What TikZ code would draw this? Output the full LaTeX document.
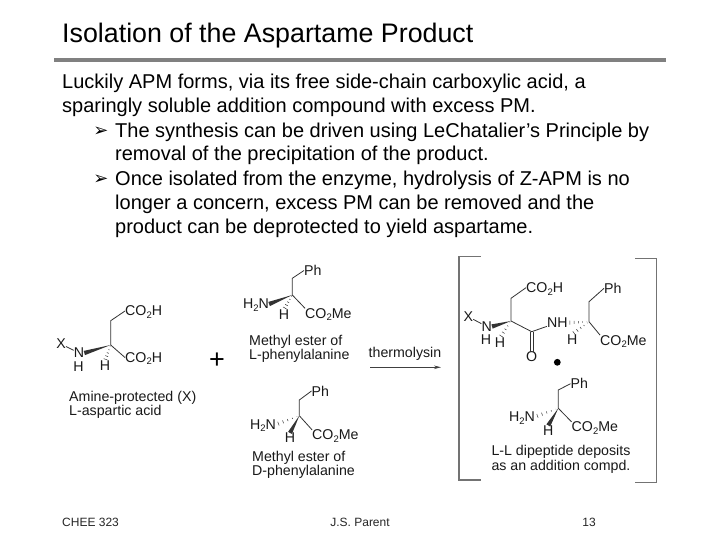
\documentclass[tikz,border=0pt]{standalone}
\usepackage{fontspec}
\setmainfont{Liberation Sans}
\newfontfamily\dingfont{DejaVu Sans}
\usetikzlibrary{arrows.meta, calc}

\newcommand{\two}{\smash{\raisebox{-2.6pt}{\fontsize{9.5}{10}\selectfont 2}}}
% solid wedge, narrow at #1 and wide at #2
\newcommand{\wedgebond}[2]{\fill[bondcol] (#1) -- ($(#2)!2.2pt!90:(#1)$) -- ($(#2)!2.2pt!-90:(#1)$) -- cycle;}
% hashed wedge, narrow at #1 and wide at #2
\newcommand{\hashbond}[2]{\foreach \t in {0.1,0.3,0.5,0.7,0.9}
    {\draw[bondcol, line width=0.5pt] ($(#1)!\t!(#2)!2.2pt*\t!90:(#2)$) -- ($(#1)!\t!(#2)!2.2pt*\t!-90:(#2)$);}}

\tikzset{
    bond/.style={draw=bondcol, line width=0.8pt},
    atom/.style={font=\fontsize{14.2}{16}\selectfont, inner sep=0pt, text=black!90, yshift=-1pt},
    caption/.style={font=\fontsize{14.2}{16}\selectfont, inner sep=0pt, anchor=base west, text=black!90},
    bodytext/.style={font=\fontsize{20}{24}\selectfont, inner sep=0pt, anchor=base west},
    subbullet/.style={font=\dingfont\fontsize{18}{18}\selectfont, inner sep=0pt, anchor=base},
    footer/.style={font=\fontsize{12}{14}\selectfont, inner sep=0pt, text=black!85},
    bracket/.style={draw=black!55, line width=1.2pt}
}
\definecolor{bondcol}{gray}{0.2}

\begin{document}
\begin{tikzpicture}[x=1pt, y=-1pt]
    \useasboundingbox (0,0) rectangle (720,540);
    \fill[white] (0,0) rectangle (720,540);

    % Title and rule
    \node[font=\fontsize{26.8}{30}\selectfont, inner sep=0pt, anchor=base west] (title) at (62,43) {Isolation of the Aspartame Product};
    \coordinate (ruleL) at (54,60);
    \coordinate (ruleR) at (666,60);
    \draw[black!50, line width=4.4pt] (ruleL) -- (ruleR);

    % Body text
    \node[bodytext] (lineA) at (62,89) {Luckily APM forms, via its free side-chain carboxylic acid, a};
    \node[bodytext] (lineB) at (62,113) {sparingly soluble addition compound with excess PM.};
    \node[subbullet] (markA) at (101,137) {➢};
    \node[bodytext] (lineC) at (115,137.5) {The synthesis can be driven using LeChatalier’s Principle by};
    \node[bodytext] (lineD) at (115,161) {removal of the precipitation of the product.};
    \node[subbullet] (markB) at (101,184.5) {➢};
    \node[bodytext] (lineE) at (115,185.5) {Once isolated from the enzyme, hydrolysis of Z-APM is no};
    \node[bodytext] (lineF) at (115,209.5) {longer a concern, excess PM can be removed and the};
    \node[bodytext] (lineG) at (115,233.5) {product can be deprotected to yield aspartame.};

    % Amine-protected aspartic acid
    \coordinate (aspC) at (110.7,345);
    \coordinate (aspCH) at (110.7,320.7);
    \node[atom] (aspX) at (61,343) {X};
    \node[atom] (aspN) at (79,352) {N};
    \node[atom] (aspNH) at (78.5,365.5) {H};
    \node[atom] (aspH) at (105,365) {H};
    \node[atom, anchor=west] (aspTop) at (125,310) {CO\two H};
    \node[atom, anchor=west] (aspBot) at (125,356.5) {CO\two H};
    \draw[bond] (aspX) -- (aspN);
    \draw[bond] (aspC) -- (aspCH) -- (aspTop.west);
    \draw[bond] (aspC) -- (aspBot.west);
    \wedgebond{aspC}{aspN.east}
    \hashbond{aspC}{aspH.north}
    \node[caption] (aspCapA) at (69,401.5) {Amine-protected (X)};
    \node[caption] (aspCapB) at (69,415.5) {L-aspartic acid};

    \node[font=\fontsize{27}{28}\selectfont, inner sep=0pt] (plus) at (217,361) {+};

    % L-phenylalanine methyl ester
    \coordinate (lpheC) at (292.3,295);
    \coordinate (lpheCH) at (292.3,278.3);
    \node[atom, anchor=west] (lphePh) at (304,269.5) {Ph};
    \node[atom] (lpheN) at (256,303) {H\two N};
    \node[atom] (lpheH) at (284,313.5) {H};
    \node[atom, anchor=west] (lpheCO) at (305,312.5) {CO\two Me};
    \draw[bond] (lpheC) -- (lpheCH) -- (lphePh.west);
    \draw[bond] (lpheC) -- (lpheCO.north west);
    \wedgebond{lpheC}{lpheN.east}
    \hashbond{lpheC}{lpheH.north}
    \node[caption] (lpheCapA) at (249,345) {Methyl ester of};
    \node[caption] (lpheCapB) at (249,359.5) {L-phenylalanine};

    % D-phenylalanine methyl ester
    \coordinate (dpheC) at (299.3,415.7);
    \coordinate (dpheCH) at (299.3,400);
    \node[atom, anchor=west] (dphePh) at (311.5,390) {Ph};
    \node[atom] (dpheN) at (263,423.5) {H\two N};
    \node[atom] (dpheH) at (290,437) {H};
    \node[atom, anchor=west] (dpheCO) at (312,434) {CO\two Me};
    \draw[bond] (dpheC) -- (dpheCH) -- (dphePh.west);
    \draw[bond] (dpheC) -- (dpheCO.north west);
    \hashbond{dpheC}{dpheN.east}
    \wedgebond{dpheC}{dpheH.north}
    \node[caption] (dpheCapA) at (252,461.5) {Methyl ester of};
    \node[caption] (dpheCapB) at (252,475.5) {D-phenylalanine};

    % Reaction arrow
    \node[atom] (enzyme) at (405,353) {thermolysin};
    \coordinate (arrowL) at (370,367.3);
    \coordinate (arrowR) at (441,367.3);
    \draw[-{Stealth[length=7pt, width=3.5pt]}, black!75, line width=0.7pt] (arrowL) -- (arrowR);

    % Brackets
    \draw[bracket] (480.7,256.7) -- (459,256.7) -- (459,480) -- (480.7,480);
    \draw[bracket] (635,258.3) -- (656.7,258.3) -- (656.7,482.7) -- (635,482.7);

    % Dipeptide
    \coordinate (dipA) at (511,321);
    \coordinate (dipACH) at (511,298.3);
    \coordinate (dipCO) at (531.7,331.7);
    \coordinate (dipB) at (589,321.7);
    \coordinate (dipBCH) at (589,301.7);
    \node[atom] (dipX) at (468.3,315.7) {X};
    \node[atom] (dipN) at (486.7,325.5) {N};
    \node[atom] (dipNH) at (486,338.5) {H};
    \node[atom] (dipH) at (500,341.7) {H};
    \node[atom, anchor=west] (dipTop) at (526,286.7) {CO\two H};
    \node[atom] (dipO) at (531.7,356) {O};
    \node[atom] (dipAmide) at (557.3,321.7) {NH};
    \node[atom, anchor=west] (dipPh) at (604,287.3) {Ph};
    \node[atom] (dipBH) at (572.3,338.3) {H};
    \node[atom, anchor=west] (dipMe) at (600,339.3) {CO\two Me};
    \draw[bond] (dipX) -- (dipN);
    \draw[bond] (dipA) -- (dipACH) -- (dipTop.west);
    \draw[bond] (dipA) -- (dipCO) -- (dipAmide);
    \draw[bond] ($(dipCO)+(-1.4,0)$) -- ($(dipO.north)+(-1.4,0)$);
    \draw[bond] ($(dipCO)+(1.4,0)$) -- ($(dipO.north)+(1.4,0)$);
    \draw[bond] (dipB) -- (dipBCH) -- (dipPh.west);
    \draw[bond] (dipB) -- (dipMe.north west);
    \wedgebond{dipA}{dipN.east}
    \hashbond{dipA}{dipH.north}
    \hashbond{dipB}{dipAmide.east}
    \hashbond{dipB}{dipBH.north}

    \fill[black] (557.3,362.3) circle (3.4pt);

    % Phenylalanine ester in the compound
    \coordinate (addC) at (558.3,408.3);
    \coordinate (addCH) at (558.3,390);
    \node[atom, anchor=west] (addPh) at (570.5,382.7) {Ph};
    \node[atom] (addN) at (522,415.7) {H\two N};
    \node[atom] (addH) at (548.3,429.5) {H};
    \node[atom, anchor=west] (addCO) at (571.5,426) {CO\two Me};
    \draw[bond] (addC) -- (addCH) -- (addPh.west);
    \draw[bond] (addC) -- (addCO.north west);
    \hashbond{addC}{addN.east}
    \wedgebond{addC}{addH.north}
    \node[caption, anchor=base] (addCapA) at (561,455.5) {L-L dipeptide deposits};
    \node[caption, anchor=base] (addCapB) at (561,470) {as an addition compd.};

    % Footer
    \node[footer, anchor=west] (footL) at (62,522.5) {CHEE 323};
    \node[footer] (footM) at (360,522.5) {J.S. Parent};
    \node[footer, anchor=east] (footR) at (596,522.5) {13};
\end{tikzpicture}
\end{document}
